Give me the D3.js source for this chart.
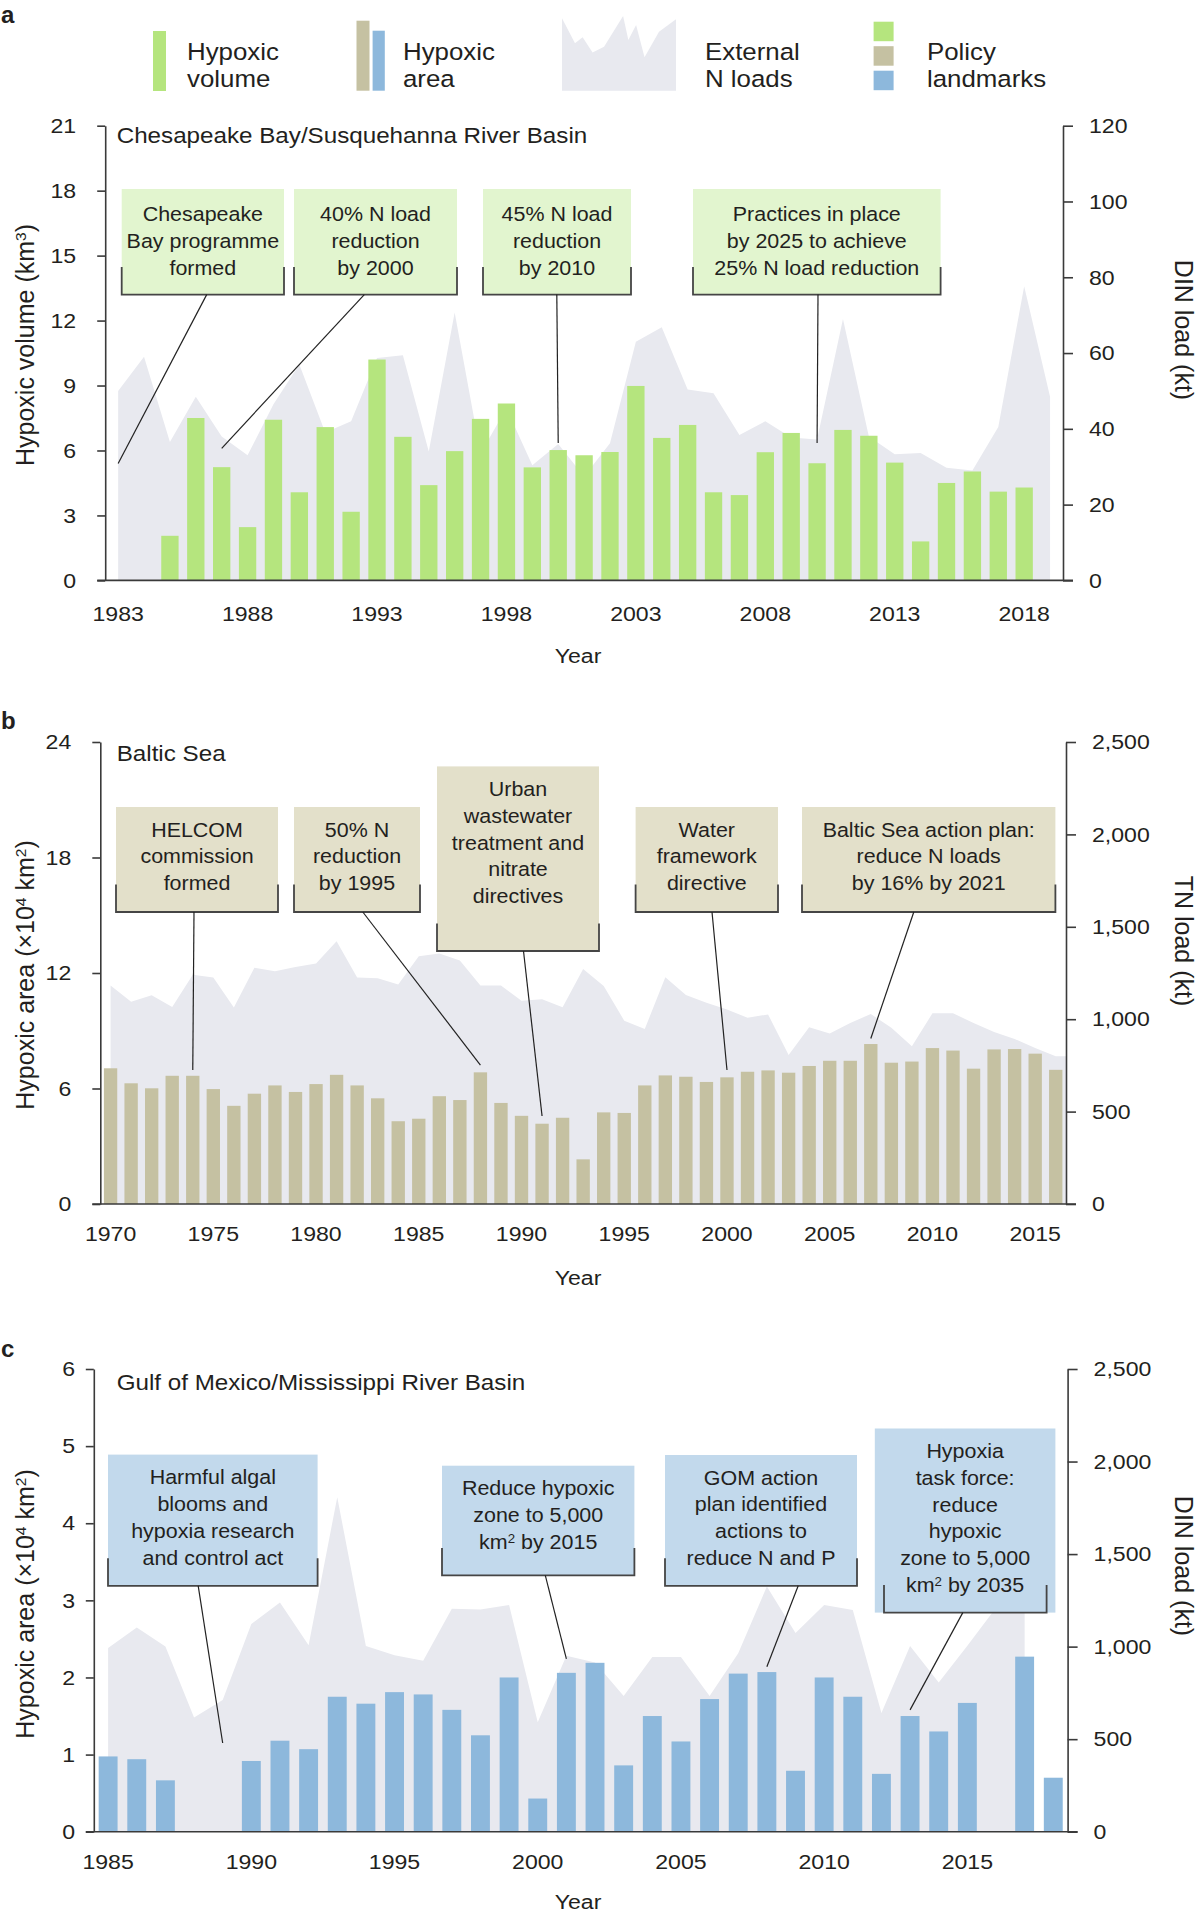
<!DOCTYPE html>
<html>
<head>
<meta charset="utf-8">
<script src="https://cdn.jsdelivr.net/npm/d3@7"></script>
<style>
  body { margin: 0; background: #fff; }
  svg { display: block; }
  text { fill: #231f20; }
</style>
</head>
<body>
<script>
// ---- a: Chesapeake Bay
const yearsA = d3.range(1983, 2020);
const volumeA = [null, null, 2.06, 7.5, 5.23, 2.46, 7.42, 4.07, 7.08, 3.17, 10.2, 6.63, 4.4, 5.97, 7.46, 8.17,
  5.22, 6.02, 5.78, 5.93, 8.98, 6.58, 7.18, 4.07, 3.94, 5.92, 6.81, 5.41, 6.95, 6.68, 5.44, 1.8, 4.5, 5.03, 4.1, 4.29, null];
const dinA = [50, 59, 36.5, 48.5, 38, 33, 46.5, 57, 39, 42, 58.7, 59.4, 34, 70.7, 33.5, 45.4, 30.4, 36, 27.4, 36.2,
  63, 66.8, 50.4, 49.4, 38.4, 42, 37.7, 37.2, 69, 38, 33.3, 33.6, 29.7, 29, 40.5, 77.6, 48.5];
const xTicksA = [1983, 1988, 1993, 1998, 2003, 2008, 2013, 2018];
const yTicksA = [0, 3, 6, 9, 12, 15, 18, 21];
const rTicksA = [0, 20, 40, 60, 80, 100, 120];
const notesA = [
  { year: 1983, to: 5.4, text: ["Chesapeake", "Bay programme", "formed"] },
  { year: 1987, to: 6.1, text: ["40% N load", "reduction", "by 2000"] },
  { year: 2000, to: 6.35, text: ["45% N load", "reduction", "by 2010"] },
  { year: 2010, to: 6.35, text: ["Practices in place", "by 2025 to achieve", "25% N load reduction"] }
];

// ---- b: Baltic Sea
const yearsB = d3.range(1970, 2017);
const areaB = [7.05, 6.27, 6.01, 6.66, 6.66, 5.97, 5.1, 5.73, 6.16, 5.82,
  6.23, 6.71, 6.16, 5.49, 4.3, 4.43, 5.6, 5.4, 6.84, 5.25,
  4.58, 4.17, 4.48, 2.32, 4.76, 4.73, 6.16, 6.68, 6.61, 6.34,
  6.58, 6.87, 6.94, 6.82, 7.17, 7.44, 7.44, 8.31, 7.34, 7.4,
  8.1, 7.97, 7.03, 8.03, 8.05, 7.81, 6.97];
const tnB = [1182, 1095, 1130, 1066, 1240, 1225, 1063, 1279, 1260, 1283,
  1302, 1422, 1225, 1221, 1188, 1341, 1356, 1318, 1182, 1182,
  1100, 1108, 1064, 1272, 1180, 992, 947, 1227, 1131, 1089,
  1053, 1008, 1026, 806, 956, 922, 980, 1028, 954, 854,
  1032, 1032, 980, 931, 893, 844, 800];
const xTicksB = [1970, 1975, 1980, 1985, 1990, 1995, 2000, 2005, 2010, 2015];
const yTicksB = [0, 6, 12, 18, 24];
const rTicksB = [0, 500, 1000, 1500, 2000, 2500];
const notesB = [
  { year: 1974, to: 6.96, text: ["HELCOM", "commission", "formed"] },
  { year: 1988, to: 7.22, text: ["50% N", "reduction", "by 1995"] },
  { year: 1991, to: 4.57, text: ["Urban", "wastewater", "treatment and", "nitrate", "directives"] },
  { year: 2000, to: 6.96, text: ["Water", "framework", "directive"] },
  { year: 2007, to: 8.6, text: ["Baltic Sea action plan:", "reduce N loads", "by 16% by 2021"] }
];

// ---- c: Gulf of Mexico
const yearsC = d3.range(1985, 2019);
const areaC = [0.976, 0.94, 0.666, null, null, 0.917, 1.18, 1.07, 1.75, 1.66,
  1.81, 1.78, 1.58, 1.25, 2.0, 0.43, 2.06, 2.19, 0.86, 1.5,
  1.17, 1.72, 2.05, 2.07, 0.79, 2.0, 1.75, 0.75, 1.5, 1.3,
  1.67, null, 2.27, 0.70];
const dinC = [992, 1103, 1000, 617, 712, 1122, 1238, 1008, 1807, 1003,
  954, 924, 1205, 1201, 1225, 592, 950, 914, 733, 944,
  944, 733, 964, 1325, 1074, 1225, 1198, 641, 1003, 806,
  1005, 1210, 1330, null];
const xTicksC = [1985, 1990, 1995, 2000, 2005, 2010, 2015];
const yTicksC = [0, 1, 2, 3, 4, 5, 6];
const rTicksC = [0, 500, 1000, 1500, 2000, 2500];
const notesC = [
  { year: 1989, to: 1.15, text: ["Harmful algal", "blooms and", "hypoxia research", "and control act"] },
  { year: 2001, to: 2.24, text: ["Reduce hypoxic", "zone to 5,000", "km^2 by 2015"] },
  { year: 2008, to: 2.14, text: ["GOM action", "plan identified", "actions to", "reduce N and P"] },
  { year: 2013, to: 1.58, text: ["Hypoxia", "task force:", "reduce", "hypoxic", "zone to 5,000", "km^2 by 2035"] }
];

// legend icon outline (relative position, relative height)
const legendWave = [[0, 0.97], [0.114, 0.635], [0.181, 0.715], [0.268, 0.51], [0.369, 0.59], [0.536, 1],
  [0.582, 0.68], [0.65, 0.88], [0.724, 0.447], [0.851, 0.79], [1, 0.956]];

// ---- styling
const FONT = '"Liberation Sans", Arial, Helvetica, sans-serif';
const SX = 1.1; // glyphs in the figure run a bit wide
const green = "#b5e57e", greenBox = "#e2f5cf";
const tan = "#c5c1a2", tanBox = "#e3e0ca";
const blue = "#8db8dc", blueBox = "#c2d9ec";
const loadFill = "#e8e9ef";
const axisCol = "#3a3a3a";

const svg = d3.select("body").append("svg")
  .attr("width", 1200).attr("height", 1913)
  .style("font-family", FONT);

// text with ^x superscripts
function rich(t, str) {
  let up = false;
  str.split(/(\^.)/).forEach(p => {
    if (!p) return;
    if (p[0] === "^") {
      t.append("tspan").attr("dy", "-0.5em").style("font-size", "0.62em").text(p[1]);
      up = true;
    } else {
      const s = t.append("tspan").text(p);
      if (up) { s.attr("dy", "0.31em"); up = false; }
    }
  });
  return t;
}
function label(g, str, x, y, o) {
  o = o || {};
  const t = g.append("text")
    .attr("transform", `translate(${x},${y}) ` + (o.rot ? `rotate(${o.rot})` : `scale(${o.sx || SX},1)`))
    .attr("text-anchor", o.anchor || "start")
    .style("font-size", (o.size || 21) + "px")
    .style("font-weight", o.bold ? "bold" : null);
  return rich(t, str);
}

// ---- legend
const lg = svg.append("g");
lg.append("rect").attr("x", 153).attr("y", 31).attr("width", 13).attr("height", 60).attr("fill", green);
lg.append("rect").attr("x", 356.5).attr("y", 20.7).attr("width", 13).attr("height", 70).attr("fill", tan);
lg.append("rect").attr("x", 372.6).attr("y", 30.7).attr("width", 12.2).attr("height", 60).attr("fill", blue);
const wx = d3.scaleLinear().range([562, 676]);
const wy = d3.scaleLinear().range([90.7, 16]);
lg.append("path")
  .attr("d", d3.area().x(d => wx(d[0])).y0(wy(0)).y1(d => wy(d[1]))(legendWave))
  .attr("fill", loadFill);
[green, tan, blue].forEach((c, i) => {
  lg.append("rect").attr("x", 873.6).attr("y", 21.7 + i * 24.5).attr("width", 20).attr("height", 19.5)
    .attr("fill", c);
});
[["Hypoxic", "volume", 187], ["Hypoxic", "area", 403], ["External", "N loads", 705], ["Policy", "landmarks", 927]]
  .forEach(d => {
    label(lg, d[0], d[2], 59.5, { size: 23.5 });
    label(lg, d[1], d[2], 87, { size: 23.5 });
  });

// ---- panels
const panels = [
  {
    letter: "a", letterY: 23, title: "Chesapeake Bay/Susquehanna River Basin", titleY: 142.8,
    years: yearsA, bars: volumeA, loads: dinA, notes: notesA,
    yMax: 21, rMax: 120, yTicks: yTicksA, rTicks: rTicksA, xTicks: xTicksA,
    xr: [105.2, 1063], yr: [580.4, 125.7], pad: 0.33, lPad: 21, xLab: 41, yearY: 663,
    leftTitle: "Hypoxic volume (km^3)", leftY: 345, rightTitle: "DIN load (kt)", rightY: 330,
    bar: green, box: greenBox, textTop: 25,
    boxes: [
      { x0: 121.7, x1: 284, y0: 189, y1: 294.6, lx: 206.7 },
      { x0: 294, x1: 457, y0: 189, y1: 294.6, lx: 364.3 },
      { x0: 483, x1: 631, y0: 189, y1: 294.6, lx: 556.8 },
      { x0: 693, x1: 940.6, y0: 189, y1: 294.6, lx: 818 }
    ]
  },
  {
    letter: "b", letterY: 729, title: "Baltic Sea", titleY: 760.7,
    years: yearsB, bars: areaB, loads: tnB, notes: notesB, loadToEdge: true,
    yMax: 24, rMax: 2500, yTicks: yTicksB, rTicks: rTicksB, xTicks: xTicksB,
    xr: [100.3, 1066], yr: [1204, 742], pad: 0.35, lPad: 21, xLab: 37, yearY: 1285,
    leftTitle: "Hypoxic area (×10^4 km^2)", leftY: 975, rightTitle: "TN load (kt)", rightY: 941,
    bar: tan, box: tanBox, textTop: 22.5,
    boxes: [
      { x0: 116, x1: 278, y0: 807, y1: 912, lx: 194 },
      { x0: 294, x1: 420, y0: 807, y1: 912, lx: 362.8 },
      { x0: 437, x1: 599, y0: 766.4, y1: 951, lx: 523.5 },
      { x0: 635.6, x1: 778, y0: 807, y1: 912, lx: 712 },
      { x0: 802, x1: 1055.4, y0: 807, y1: 912, lx: 913.8 }
    ]
  },
  {
    letter: "c", letterY: 1357, title: "Gulf of Mexico/Mississippi River Basin", titleY: 1389.5,
    years: yearsC, bars: areaC, loads: dinC, notes: notesC,
    yMax: 6, rMax: 2500, yTicks: yTicksC, rTicks: rTicksC, xTicks: xTicksC,
    xr: [93.8, 1067.6], yr: [1831.7, 1369], pad: 0.34, lPad: 10.8, xLab: 37.5, yearY: 1909,
    leftTitle: "Hypoxic area (×10^4 km^2)", leftY: 1604, rightTitle: "DIN load (kt)", rightY: 1566,
    bar: blue, box: blueBox, textTop: 22.5,
    boxes: [
      { x0: 108, x1: 317.6, y0: 1454.6, y1: 1585.8, lx: 198.2 },
      { x0: 442, x1: 634.4, y0: 1465.7, y1: 1575.4, lx: 545.3 },
      { x0: 665, x1: 857, y0: 1455, y1: 1585.8, lx: 798.2 },
      { x0: 874.8, x1: 1055.4, y0: 1428.5, y1: 1612.6, lx: 962.8, bx0: 884, bx1: 1046.6 }
    ]
  }
];

function styleAxis(ax) {
  ax.selectAll(".domain, .tick line").attr("stroke", axisCol).attr("stroke-width", 1.6);
  ax.selectAll("text").style("font-size", "21px").attr("fill", "#231f20");
}

panels.forEach(p => {
  const g = svg.append("g");
  const x = d3.scaleBand().domain(p.years).range(p.xr).paddingInner(p.pad).paddingOuter(p.pad / 2);
  const yL = d3.scaleLinear().domain([0, p.yMax]).range(p.yr);
  const yR = d3.scaleLinear().domain([0, p.rMax]).range(p.yr);
  const cx = yr => x(yr) + x.bandwidth() / 2;

  // external N loads
  const pts = p.years.map((yr, i) => ({ x: cx(yr), v: p.loads[i] }));
  if (p.loadToEdge) pts.push({ x: x.range()[1], v: p.loads[p.loads.length - 1] });
  g.append("path")
    .attr("d", d3.area().defined(d => d.v != null).x(d => d.x).y0(yR(0)).y1(d => yR(d.v))(pts))
    .attr("fill", loadFill);

  // hypoxia bars
  g.selectAll("rect.bar")
    .data(p.years.map((yr, i) => ({ yr, v: p.bars[i] })).filter(d => d.v != null))
    .join("rect").attr("class", "bar")
    .attr("x", d => x(d.yr)).attr("width", x.bandwidth())
    .attr("y", d => yL(d.v)).attr("height", d => yL(0) - yL(d.v))
    .attr("fill", p.bar);

  // axes
  const axL = g.append("g").attr("transform", `translate(${p.xr[0]},0)`)
    .call(d3.axisLeft(yL).tickValues(p.yTicks).tickFormat(d3.format("d"))
      .tickSize(8).tickSizeOuter(0).tickPadding(p.lPad));
  const axR = g.append("g").attr("transform", `translate(${p.xr[1]},0)`)
    .call(d3.axisRight(yR).tickValues(p.rTicks).tickFormat(d3.format(","))
      .tickSize(10).tickSizeOuter(0).tickPadding(16));
  [axL, axR].forEach(ax => {
    styleAxis(ax);
    ax.selectAll("text").attr("x", function () { return +this.getAttribute("x") / SX; })
      .attr("transform", `scale(${SX},1)`);
  });
  const axB = g.append("g").attr("transform", `translate(0,${p.yr[0]})`)
    .call(d3.axisBottom(x).tickValues(p.xTicks).tickSize(0));
  axB.select(".domain").remove();
  styleAxis(axB);
  axB.selectAll("text").attr("dy", null).attr("y", p.xLab).attr("transform", `scale(${SX},1)`)
    .attr("x", 0);
  axB.selectAll(".tick").attr("transform", d => `translate(${cx(d)},0)`);
  g.append("line")
    .attr("x1", p.xr[0] - 8).attr("x2", p.xr[1] + 10)
    .attr("y1", p.yr[0]).attr("y2", p.yr[0])
    .attr("stroke", axisCol).attr("stroke-width", 1.6);

  // titles
  label(g, p.letter, 1, p.letterY, { size: 24, bold: true, sx: 1 });
  label(g, p.title, 116.7, p.titleY, { size: 22 });
  label(g, p.leftTitle, 34, p.leftY, { size: 25, rot: -90, anchor: "middle" });
  label(g, p.rightTitle, 1175, p.rightY, { size: 25, rot: 90, anchor: "middle" });
  label(g, "Year", 578, p.yearY, { size: 21, anchor: "middle" });

  // policy landmarks
  p.notes.forEach((n, i) => {
    const b = p.boxes[i];
    g.append("rect").attr("x", b.x0).attr("y", b.y0)
      .attr("width", b.x1 - b.x0).attr("height", b.y1 - b.y0).attr("fill", p.box);
    const bx0 = b.bx0 || b.x0, bx1 = b.bx1 || b.x1;
    g.append("path")
      .attr("d", `M${bx0},${b.y1 - 27.5}V${b.y1}H${bx1}V${b.y1 - 27.5}`)
      .attr("fill", "none").attr("stroke", "#454545").attr("stroke-width", 1.8);
    n.text.forEach((line, j) => {
      label(g, line, (b.x0 + b.x1) / 2, b.y0 + p.textTop + j * 26.8 + 7, { size: 19.5, anchor: "middle" });
    });
    g.append("line")
      .attr("x1", b.lx).attr("y1", b.y1)
      .attr("x2", cx(n.year)).attr("y2", yL(n.to))
      .attr("stroke", "#222").attr("stroke-width", 1.2);
  });
});
</script>
</body>
</html>
